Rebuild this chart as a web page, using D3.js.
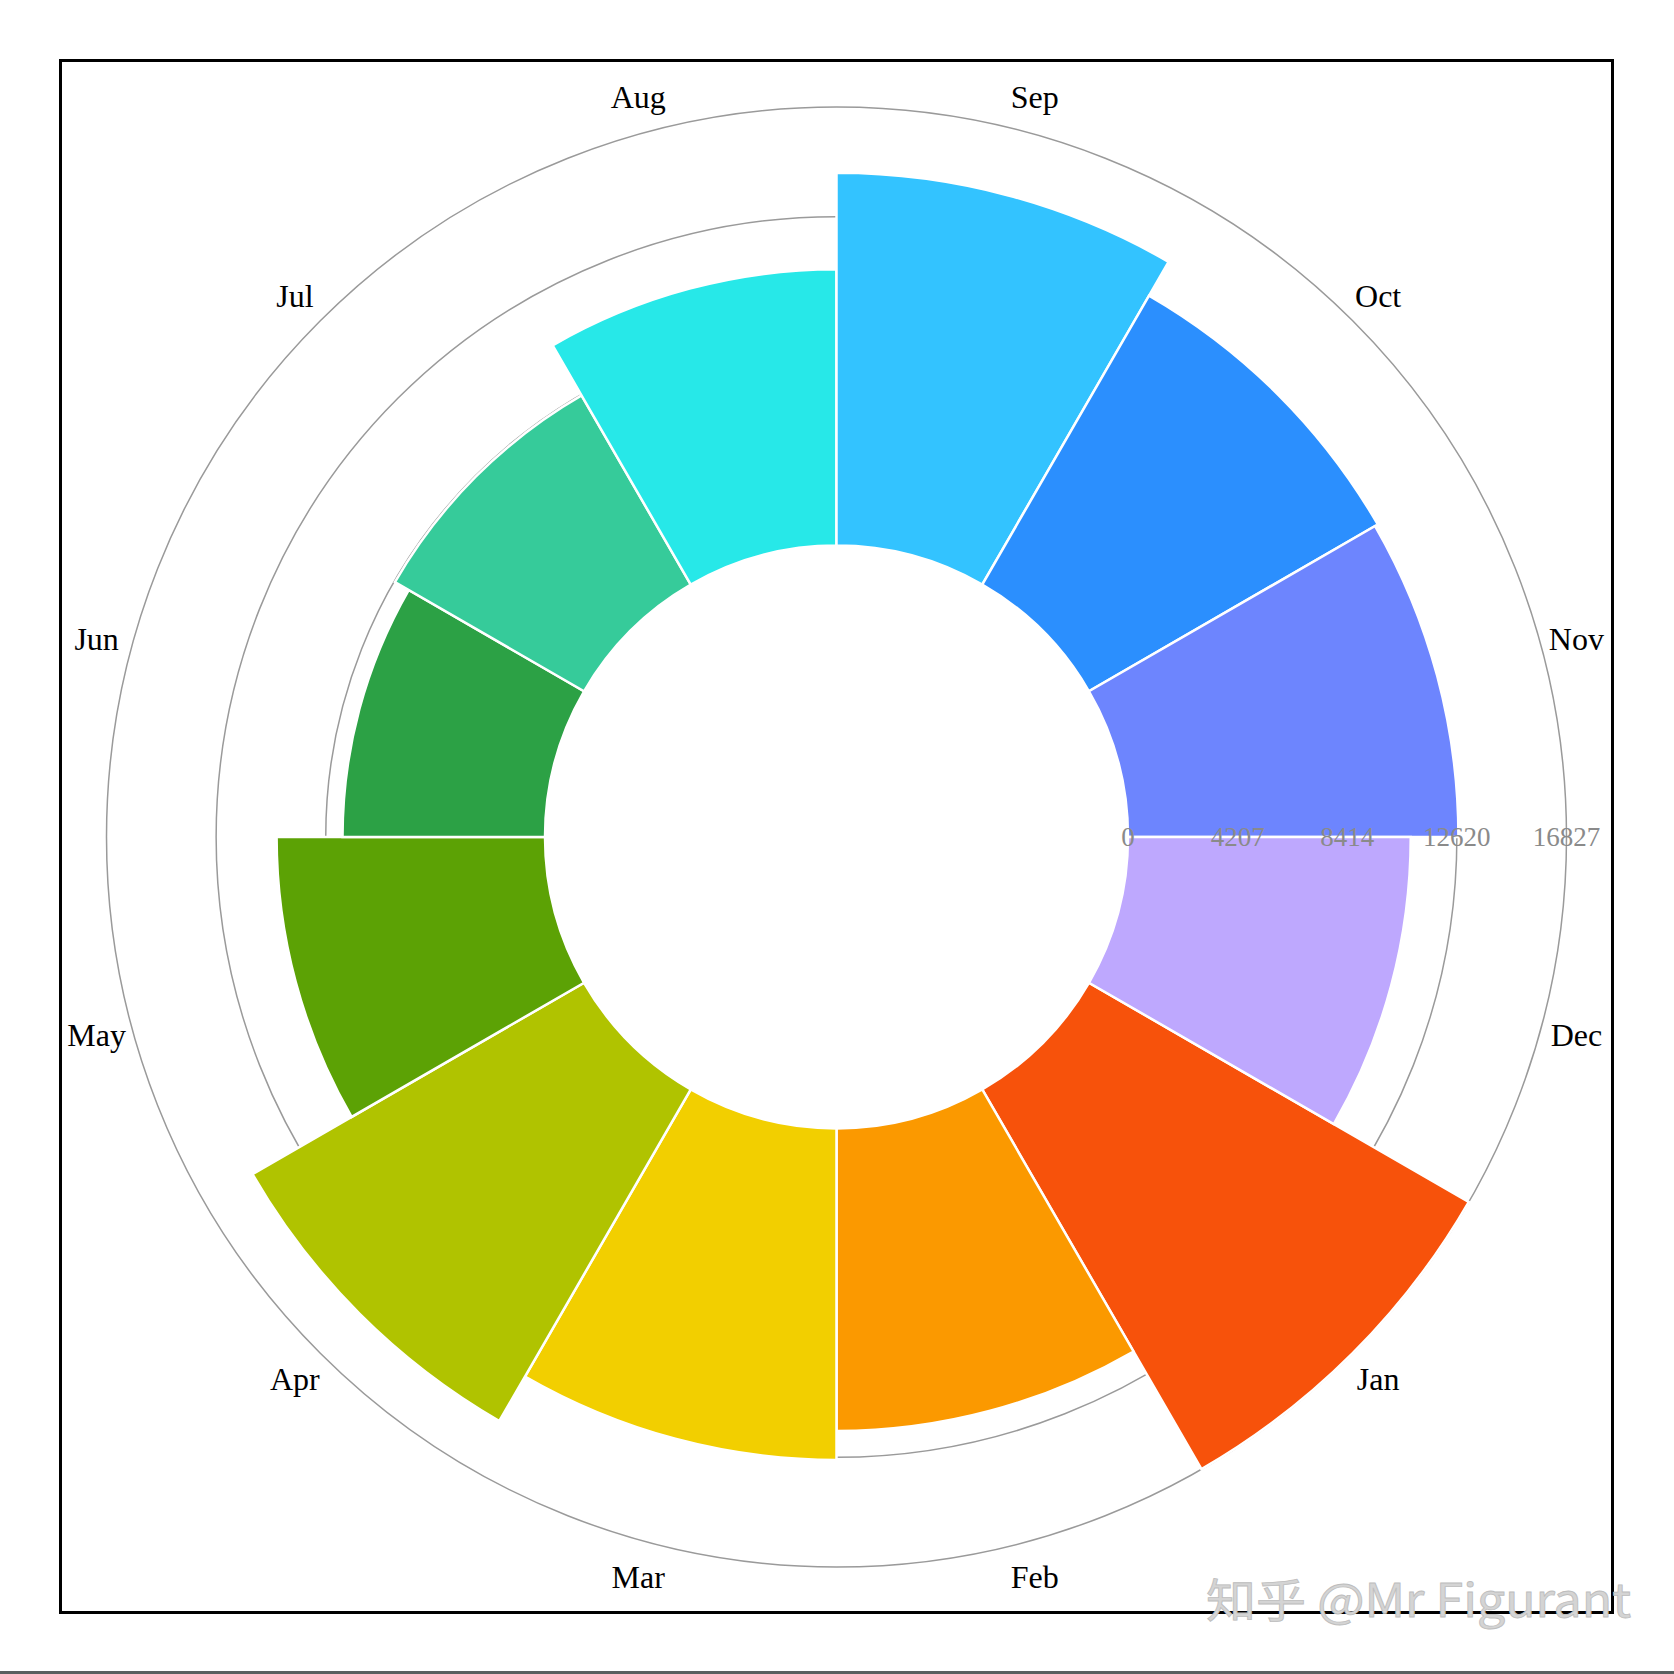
<!DOCTYPE html>
<html>
<head>
<meta charset="utf-8">
<script src="https://cdn.jsdelivr.net/npm/d3@7"></script>
<style>
  body { margin: 0; background: #fff; }
</style>
</head>
<body>
<div id="chart"></div>
<script>
// data, Jan..Dec
const months = ['Jan', 'Feb', 'Mar', 'Apr', 'May', 'Jun', 'Jul', 'Aug', 'Sep', 'Oct', 'Nov', 'Dec'];
const values = [16827, 11610, 12720, 14690, 10300, 7770, 8380, 10600, 14300, 12800, 12680, 10850];
const colors = ['#f7520b', '#fb9900', '#f2cf00', '#b0c300', '#5ca205', '#2ca145', '#36cb9a', '#27e8e8',
                '#33c3ff', '#2b8ffe', '#6d85fe', '#bea8fe'];
const tickValues = [0, 4207, 8414, 12620, 16827];
const tickLabels = ['0', '4207', '8414', '12620', '16827'];

let W = 1674, H = 1674;
let cx = 836.5, cy = 837;
let innerR = 291.5, outerR = 730, labelR = 766;

let svg = d3.select('#chart')
    .append('svg')
        .attr('width', W)
        .attr('height', H);

// frame
svg.append('rect')
    .attr('x', 60.5).attr('y', 60.5)
    .attr('width', 1552).attr('height', 1552)
    .attr('fill', 'none')
    .attr('stroke', '#000')
    .attr('stroke-width', 3);

let g = svg.append('g')
    .attr('transform', 'translate(' + cx + ',' + cy + ')');

// angle: Jan starts at 4 o'clock, months go clockwise
let x = d3.scaleBand()
    .domain(months)
    .range([2 * Math.PI / 3, 2 * Math.PI / 3 + 2 * Math.PI])
    .padding(0);

let y = d3.scaleLinear()
    .domain([0, d3.max(tickValues)])
    .range([innerR, outerR]);

// grid rings
g.append('g')
    .selectAll('circle')
    .data(tickValues.slice(1))
    .enter()
    .append('circle')
        .attr('r', d => y(d))
        .attr('fill', 'none')
        .attr('stroke', '#9a9a9a')
        .attr('stroke-width', 1.5);

// bars
let arc = d3.arc()
    .innerRadius(innerR)
    .outerRadius(d => y(d.value))
    .startAngle(d => x(d.month))
    .endAngle(d => x(d.month) + x.bandwidth());

let bars = months.map((m, i) => ({ month: m, value: values[i], color: colors[i] }));

g.append('g')
    .selectAll('path')
    .data(bars)
    .enter()
    .append('path')
        .attr('d', arc)
        .attr('fill', d => d.color)
        .attr('stroke', '#fff')
        .attr('stroke-width', 2.5);

// month labels
g.append('g')
    .selectAll('text')
    .data(months)
    .enter()
    .append('text')
        .attr('x', d => labelR * Math.sin(x(d) + x.bandwidth() / 2))
        .attr('y', d => -labelR * Math.cos(x(d) + x.bandwidth() / 2))
        .attr('text-anchor', 'middle')
        .attr('dy', '0.35em')
        .attr('font-family', '"Liberation Serif", "Times New Roman", serif')
        .attr('font-size', 32)
        .attr('fill', '#000')
        .text(d => d);

// radial axis labels along 3 o'clock
g.append('g')
    .selectAll('text')
    .data(tickValues)
    .enter()
    .append('text')
        .attr('x', d => y(d))
        .attr('y', 0)
        .attr('dy', '0.35em')
        .attr('text-anchor', 'middle')
        .attr('font-family', '"Liberation Serif", "Times New Roman", serif')
        .attr('font-size', 27)
        .attr('fill', '#8a8a8a')
        .text((d, i) => tickLabels[i]);

// watermark
svg.append('text')
    .attr('x', 1206)
    .attr('y', 1617)
    .attr('textLength', 425)
    .attr('lengthAdjust', 'spacingAndGlyphs')
    .attr('font-family', '"Noto Sans CJK SC", "Noto Sans", sans-serif')
    .attr('font-size', 46)
    .attr('fill', '#d4d4d4')
    .attr('stroke', '#bdbdbd')
    .attr('stroke-width', 0.8)
    .text('知乎 @Mr Figurant');

// strip at the bottom edge
svg.append('rect')
    .attr('x', 0).attr('y', 1671)
    .attr('width', W).attr('height', 3)
    .attr('fill', '#5a5f5f');
</script>
</body>
</html>
